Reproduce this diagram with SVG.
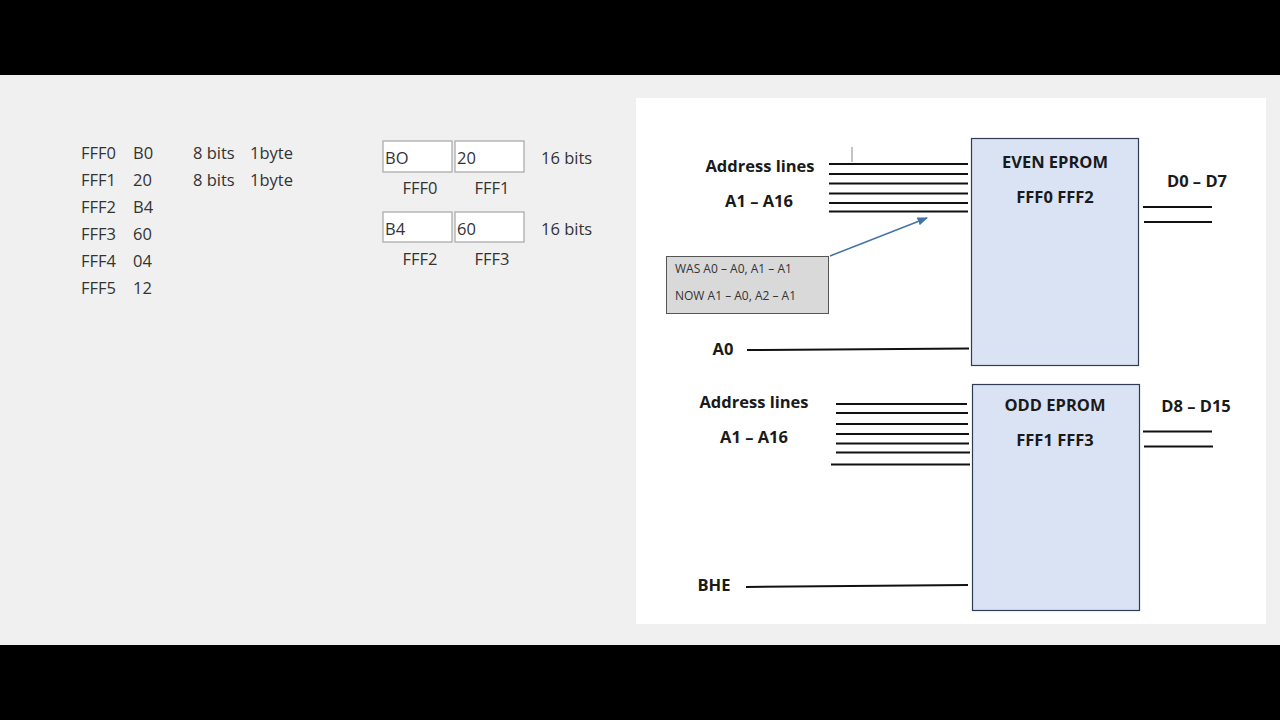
<svg xmlns="http://www.w3.org/2000/svg" width="1280" height="720" viewBox="0 0 1280 720">
<defs>
<style>
.t{font-family:"Open Sans","Noto Sans","Liberation Sans",sans-serif;font-size:16.5px;fill:#333}
.b{font-family:"Open Sans","Noto Sans","Liberation Sans",sans-serif;font-size:16.5px;font-weight:bold;fill:#1a1a1a}
.s{font-family:"Open Sans","Noto Sans","Liberation Sans",sans-serif;font-size:12px;fill:#333}
.cell{fill:#fff;stroke:#a6a6a6;stroke-width:1.2}
.chip{fill:#dae3f3;stroke:#2f3c55;stroke-width:1.2}
.w{stroke:#111;stroke-width:2;fill:none}
</style>
<marker id="ah" viewBox="0 0 10 10" refX="9" refY="5" markerWidth="7" markerHeight="7" orient="auto">
<path d="M0,1 L10,5 L0,9 z" fill="#4472a8"/>
</marker>
</defs>
<rect x="0" y="0" width="1280" height="720" fill="#000"/>
<rect x="0" y="75" width="1280" height="570" fill="#f0f0f0"/>
<rect x="636" y="98" width="630" height="526" fill="#fff"/>

<g id="memory-list">
<text class="t" x="81" y="159">FFF0</text><text class="t" x="133" y="159">B0</text><text class="t" x="193" y="159">8 bits</text><text class="t" x="250" y="159">1byte</text>
<text class="t" x="81" y="186">FFF1</text><text class="t" x="133" y="186">20</text><text class="t" x="193" y="186">8 bits</text><text class="t" x="250" y="186">1byte</text>
<text class="t" x="81" y="213">FFF2</text><text class="t" x="133" y="213">B4</text>
<text class="t" x="81" y="240">FFF3</text><text class="t" x="133" y="240">60</text>
<text class="t" x="81" y="267">FFF4</text><text class="t" x="133" y="267">04</text>
<text class="t" x="81" y="294">FFF5</text><text class="t" x="133" y="294">12</text>
</g>

<g id="word1">
<rect class="cell" x="383" y="141" width="69" height="31"/>
<rect class="cell" x="455" y="141" width="69" height="31"/>
<text class="t" x="385" y="164">BO</text>
<text class="t" x="457" y="164">20</text>
<text class="t" x="541" y="164">16 bits</text>
<text class="t" x="420" y="194" text-anchor="middle">FFF0</text>
<text class="t" x="492" y="194" text-anchor="middle">FFF1</text>
</g>
<g id="word2">
<rect class="cell" x="383" y="212" width="69" height="30"/>
<rect class="cell" x="455" y="212" width="69" height="30"/>
<text class="t" x="385" y="235">B4</text>
<text class="t" x="457" y="235">60</text>
<text class="t" x="541" y="235">16 bits</text>
<text class="t" x="420" y="265" text-anchor="middle">FFF2</text>
<text class="t" x="492" y="265" text-anchor="middle">FFF3</text>
</g>

<g id="even-eprom">
<rect class="chip" x="971.5" y="138.5" width="167" height="227"/>
<text class="b" x="1055" y="168" text-anchor="middle">EVEN EPROM</text>
<text class="b" x="1055" y="203" text-anchor="middle">FFF0 FFF2</text>
</g>
<g id="odd-eprom">
<rect class="chip" x="972.5" y="384.5" width="167" height="226"/>
<text class="b" x="1055" y="411" text-anchor="middle">ODD EPROM</text>
<text class="b" x="1055" y="446" text-anchor="middle">FFF1 FFF3</text>
</g>

<g id="labels">
<text class="b" x="760" y="172" text-anchor="middle">Address lines</text>
<text class="b" x="759" y="207" text-anchor="middle">A1 – A16</text>
<text class="b" x="1197" y="187" text-anchor="middle">D0 – D7</text>
<text class="b" x="723" y="355" text-anchor="middle">A0</text>
<text class="b" x="754" y="408" text-anchor="middle">Address lines</text>
<text class="b" x="754" y="443" text-anchor="middle">A1 – A16</text>
<text class="b" x="1196" y="412" text-anchor="middle">D8 – D15</text>
<text class="b" x="714" y="591" text-anchor="middle">BHE</text>
</g>

<g id="note">
<rect x="666.5" y="256.5" width="162" height="57" fill="#d9d9d9" stroke="#555" stroke-width="1"/>
<text class="s" x="675" y="273">WAS A0 – A0, A1 – A1</text>
<text class="s" x="675" y="300">NOW A1 – A0, A2 – A1</text>
</g>

<g id="connectors">
<line x1="852" y1="147" x2="852" y2="162" stroke="#888" stroke-width="1"/>
<path class="w" d="M829,164 H968 M829,174 H968 M829,183.5 H968 M829,193.5 H968 M829,203 H968 M829,211.5 H968"/>
<path class="w" d="M1143,207 H1212 M1144,222 H1212"/>
<path class="w" d="M747,350 L969,348.5"/>
<path class="w" d="M836,404 H967 M836,413 H968 M836,424 H968 M836,434 H969 M836,443.5 H969 M836,452.5 H970 M831,464.5 H970"/>
<path class="w" d="M1143,431.5 H1212 M1144,446.5 H1213"/>
<path class="w" d="M746,587 L968,585"/>
<line x1="830" y1="256" x2="927" y2="218" stroke="#4472a8" stroke-width="1.5" marker-end="url(#ah)"/>
</g>
</svg>
